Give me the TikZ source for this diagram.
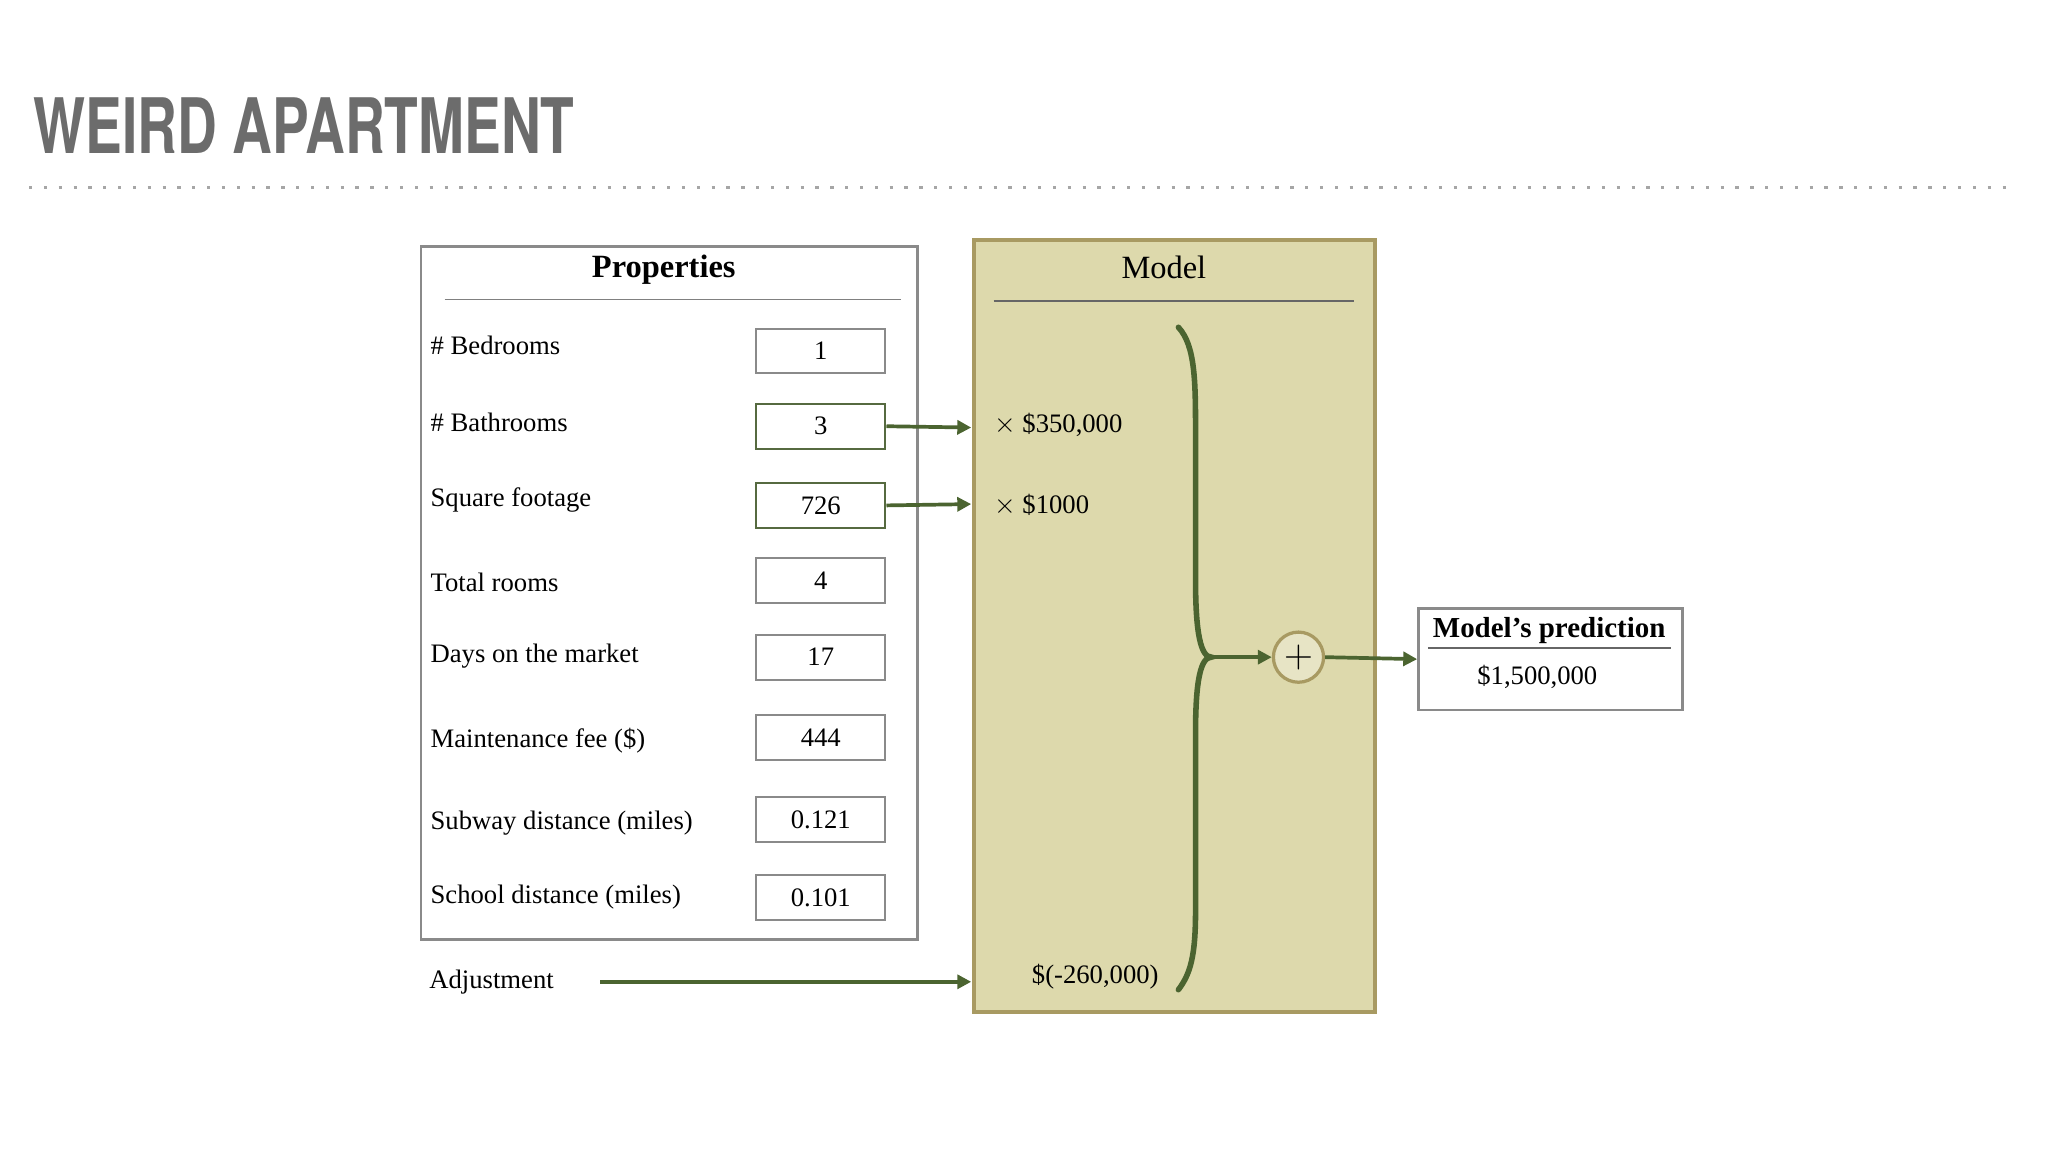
\documentclass[tikz,border=0pt]{standalone}
\usepackage{fontspec}
\setmainfont{Liberation Serif}
\newfontfamily\titlefont{TeX Gyre Heros}
\usetikzlibrary{arrows.meta}
\definecolor{grn}{HTML}{4B6430}
\definecolor{modfill}{HTML}{DDD9AC}
\definecolor{modline}{HTML}{A89A62}
\definecolor{boxline}{HTML}{8A8A8A}
\tikzset{
 lbl/.style={anchor=west,inner sep=0pt,font=\fontsize{11.5}{13}\selectfont},
 val/.style={draw=boxline,line width=0.9pt,minimum width=1.96cm,minimum height=0.68cm,inner sep=0pt,font=\fontsize{11.5}{13}\selectfont},
 gval/.style={val,draw=grn!80!gray},
 arr/.style={-{Triangle[length=6pt,width=6pt]},grn,line width=1.6pt},
 plain/.style={inner sep=0pt,font=\fontsize{11.5}{13}\selectfont}
}
\begin{document}
\begin{tikzpicture}[x=0.02cm,y=-0.02cm]
\useasboundingbox (0,0) rectangle (1552,873);
\node[anchor=west,inner sep=0pt,text=gray!85!black,font=\titlefont\bfseries\fontsize{33}{36}\selectfont] (title) at (25,95) {\scalebox{0.72}[1]{WEIRD APARTMENT}};
\draw[gray!70,line width=1.4pt,dash pattern=on 1.4pt off 5pt] (22,142) -- (1525,142);
% properties
\draw[boxline,line width=1.2pt] (319,187) rectangle (695,712);
\node[plain,font=\bfseries\fontsize{14}{16}\selectfont] (ptitle) at (503,204) {Properties};
\draw[gray,line width=0.8pt] (337,227) -- (683,227);
\foreach \n/\t/\ly/\vy/\v/\s in {
 a/\# Bedrooms/262/266/1/val,
 b/\# Bathrooms/320/323/3/gval,
 c/Square footage/379/383/726/gval,
 d/Total rooms/441/440/4/val,
 e/Days on the market/497/498/17/val,
 f/Maintenance fee (\$)/561/559/444/val,
 g/Subway distance (miles)/624/621/0.121/val,
 h/School distance (miles)/680/680/0.101/val}{
 \node[lbl] (l\n) at (326,\ly) {\t};
 \node[\s] (v\n) at (622,\vy) {\v};
}
% model
\draw[modline,fill=modfill,line width=1.6pt] (738,182) rectangle (1042,767);
\node[plain,font=\fontsize{14}{16}\selectfont] (mtitle) at (882,203) {Model};
\draw[gray!80!black,line width=0.8pt] (753,228) -- (1026,228);
\node[lbl] (w1) at (753,322) {$\times$ \$350,000};
\node[lbl] (w2) at (753,383) {$\times$ \$1000};
\node[plain] (w3) at (830,740) {\$(-260,000)};
\coordinate (in1) at (736,324);
\coordinate (in2) at (736,382);
\coordinate (in3) at (736,744);
\draw[arr] (vb.east) -- (in1);
\draw[arr] (vc.east) -- (in2);
\node[lbl] (adj) at (325,744) {Adjustment};
\coordinate (adjs) at (455,744);
\draw[arr] (adjs) -- (in3);
% brace
\coordinate (tip) at (918,498);
\draw[grn,line width=2.4pt,line cap=round] (893,248) .. controls (906,262) and (906,290) .. (906,330) -- (906,440) .. controls (906,480) and (910,498) .. (tip) .. controls (910,498) and (906,515) .. (906,555) -- (906,690) .. controls (906,725) and (902,738) .. (893,750);
\node[circle,draw=modline,fill=modfill!70!white,line width=1.4pt,minimum size=0.76cm,inner sep=0pt,font=\fontsize{16}{16}\selectfont] (plus) at (984,498) {$+$};
\draw[arr] (tip) -- (plus.west);
% prediction
\node[draw=boxline,line width=1.2pt,minimum width=4cm,minimum height=1.54cm,inner sep=0pt] (pred) at (1175,499.5) {};
\node[plain,font=\bfseries\fontsize{12.5}{14}\selectfont] (ptxt) at (1174,478) {Model's prediction};
\draw[gray!80!black,line width=0.8pt] (1082,491) -- (1266,491);
\node[plain] (pval) at (1165,513) {\$1,500,000};
\draw[arr] (plus.east) -- (pred.west);
\end{tikzpicture}
\end{document}
